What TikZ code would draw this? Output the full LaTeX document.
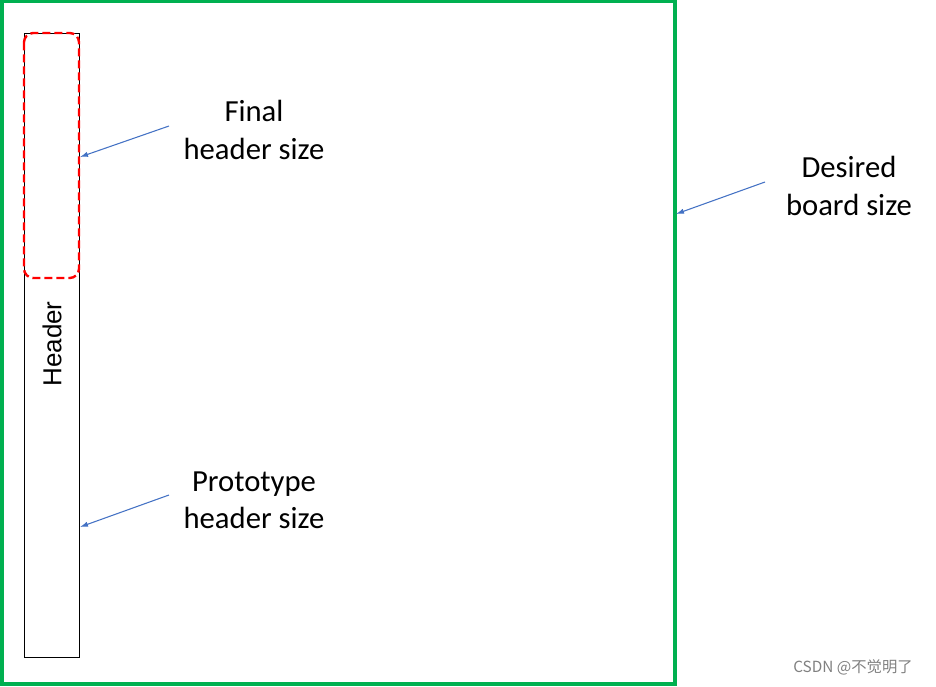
\documentclass[tikz,border=0pt]{standalone}
\usepackage{fontspec}
\setmainfont{Carlito}
\newfontfamily\arialf{Liberation Sans}
\newfontfamily\cjk{Noto Sans CJK SC}
\definecolor{bgreen}{RGB}{0,176,80}
\definecolor{ablue}{RGB}{68,114,196}
\begin{document}
\begin{tikzpicture}[x=0.75pt,y=-0.75pt,
  lbl/.style={align=center,font=\fontsize{23pt}{28pt}\selectfont,inner sep=0},
  arr/.style={draw=ablue,line width=0.8pt,-{Latex[length=6pt,width=4pt]}}]
\usetikzlibrary{arrows.meta}
\useasboundingbox (0,0) rectangle (936,686);
\draw[bgreen,line width=2.3pt] (2,1) rectangle (675,684);
\node[draw=black,line width=0.8pt,minimum width=41.25pt,minimum height=468pt,inner sep=0,anchor=north west] (hdr) at (24,33) {};
\draw[red,line width=1.8pt,dash pattern=on 6pt off 3pt,rounded corners=7pt] (24,33) rectangle (79,278);
\node[rotate=90,font=\arialf\fontsize{19.5pt}{22pt}\selectfont] (htxt) at (52,344) {Header};
\node[lbl] (final) at (254,130) {Final\\header size};
\node[lbl] (desired) at (849,186) {Desired\\board size};
\node[lbl] (proto) at (254,500) {Prototype\\header size};
\coordinate (a1s) at (169,126); \coordinate (a1e) at (80,157);
\coordinate (a2s) at (765,182); \coordinate (a2e) at (676,214);
\coordinate (a3s) at (169,495); \coordinate (a3e) at (80,527);
\draw[arr] (a1s) -- (a1e);
\draw[arr] (a2s) -- (a2e);
\draw[arr] (a3s) -- (a3e);
\node[text=gray,font=\cjk\fontsize{11.5pt}{13pt}\selectfont] (wm) at (853,667) {CSDN @不觉明了};
\end{tikzpicture}
\end{document}
